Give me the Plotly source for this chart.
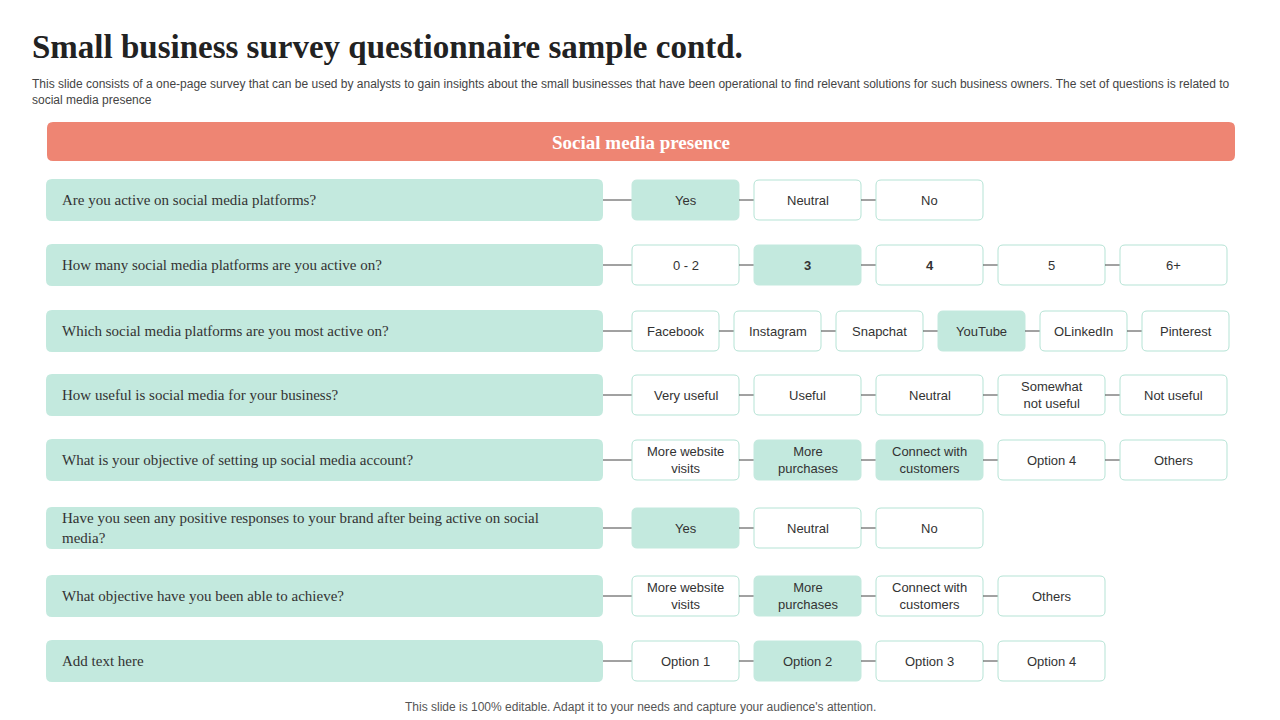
import plotly.graph_objects as go

title = "Small business survey questionnaire sample contd."
subtitle = ("This slide consists of a one-page survey that can be used by analysts to gain insights about the small businesses that have been operational to find relevant solutions for such business owners. The set of questions is related to<br>"
            "social media presence")
header = "Social media presence"
footer = "This slide is 100% editable. Adapt it to your needs and capture your audience's attention."

questions = [
    "Are you active on social media platforms?",
    "How many social media platforms are you active on?",
    "Which social media platforms are you most active on?",
    "How useful is social media for your business?",
    "What is your objective of setting up social media account?",
    "Have you seen any positive responses to your brand after being active on social<br>media?",
    "What objective have you been able to achieve?",
    "Add text here",
]
options = [
    ["Yes", "Neutral", "No"],
    ["0 - 2", "<b>3</b>", "<b>4</b>", "5", "6+"],
    ["Facebook", "Instagram", "Snapchat", "YouTube", "OLinkedIn", "Pinterest"],
    ["Very useful", "Useful", "Neutral", "Somewhat<br>not useful", "Not useful"],
    ["More website<br>visits", "More<br>purchases", "Connect with<br>customers", "Option 4", "Others"],
    ["Yes", "Neutral", "No"],
    ["More website<br>visits", "More<br>purchases", "Connect with<br>customers", "Others"],
    ["Option 1", "Option 2", "Option 3", "Option 4"],
]
selected = [[0], [1], [3], [], [1, 2], [0], [1], [1]]
row_y = [200, 265, 331, 395, 460, 528, 596, 661]

TEAL = "#C3E9DE"
BORDER = "#B5E3D5"
CORAL = "#EE8573"


def rrect(x0, y0, x1, y1, r=6):
    return (f"M{x0+r},{y0} L{x1-r},{y0} Q{x1},{y0} {x1},{y0+r} L{x1},{y1-r} Q{x1},{y1} {x1-r},{y1} "
            f"L{x0+r},{y1} Q{x0},{y1} {x0},{y1-r} L{x0},{y0+r} Q{x0},{y0} {x0+r},{y0} Z")


fig = go.Figure()
shapes = []
ann = []

shapes.append(dict(type="path", path=rrect(47, 122, 1235, 161), fillcolor=CORAL, line=dict(width=0)))
ann.append(dict(x=641, y=142, text="<b>" + header + "</b>", showarrow=False,
                font=dict(family="Liberation Serif", size=19, color="white")))

for i, (q, opts) in enumerate(zip(questions, options)):
    yc = row_y[i]
    shapes.append(dict(type="path", path=rrect(46, yc - 21, 603, yc + 21), fillcolor=TEAL, line=dict(width=0)))
    ann.append(dict(x=60, y=yc, text=q, showarrow=False, xanchor="left", align="left",
                    font=dict(family="Liberation Serif", size=15, color="#333333")))
    if len(opts) == 6:
        w, step = 87, 102
    else:
        w, step = 107, 122
    x = 632
    shapes.append(dict(type="line", x0=603, x1=x, y0=yc, y1=yc, line=dict(color="#444444", width=1)))
    for j, o in enumerate(opts):
        x0 = x + j * step
        sel = j in selected[i]
        shapes.append(dict(type="path", path=rrect(x0, yc - 20, x0 + w, yc + 20, 5),
                           fillcolor=TEAL if sel else "white",
                           line=dict(color=TEAL if sel else BORDER, width=1)))
        if j < len(opts) - 1:
            shapes.append(dict(type="line", x0=x0 + w, x1=x0 + step, y0=yc, y1=yc,
                               line=dict(color="#444444", width=1)))
        ann.append(dict(x=x0 + w / 2, y=yc, text=o, showarrow=False,
                        font=dict(family="Liberation Sans", size=13, color="#333333")))

ann.append(dict(x=30, y=47, text="<b>" + title + "</b>", showarrow=False, xanchor="left",
                font=dict(family="Liberation Serif", size=33, color="#222222")))
ann.append(dict(x=30, y=92, text=subtitle, showarrow=False, xanchor="left", align="left",
                font=dict(family="Liberation Sans", size=12, color="#444444")))
ann.append(dict(x=640, y=707, text=footer, showarrow=False,
                font=dict(family="Liberation Sans", size=12, color="#555555")))

# page body has an 8px margin, so shift the ranges to line up with screen pixels
fig.update_layout(
    width=1280, height=720, margin=dict(l=0, r=0, t=0, b=0),
    plot_bgcolor="white", paper_bgcolor="white",
    xaxis=dict(range=[8, 1288], visible=False, fixedrange=True),
    yaxis=dict(range=[728, 8], visible=False, fixedrange=True),
    shapes=shapes, annotations=ann, showlegend=False,
)
fig.write_html("out.html")
